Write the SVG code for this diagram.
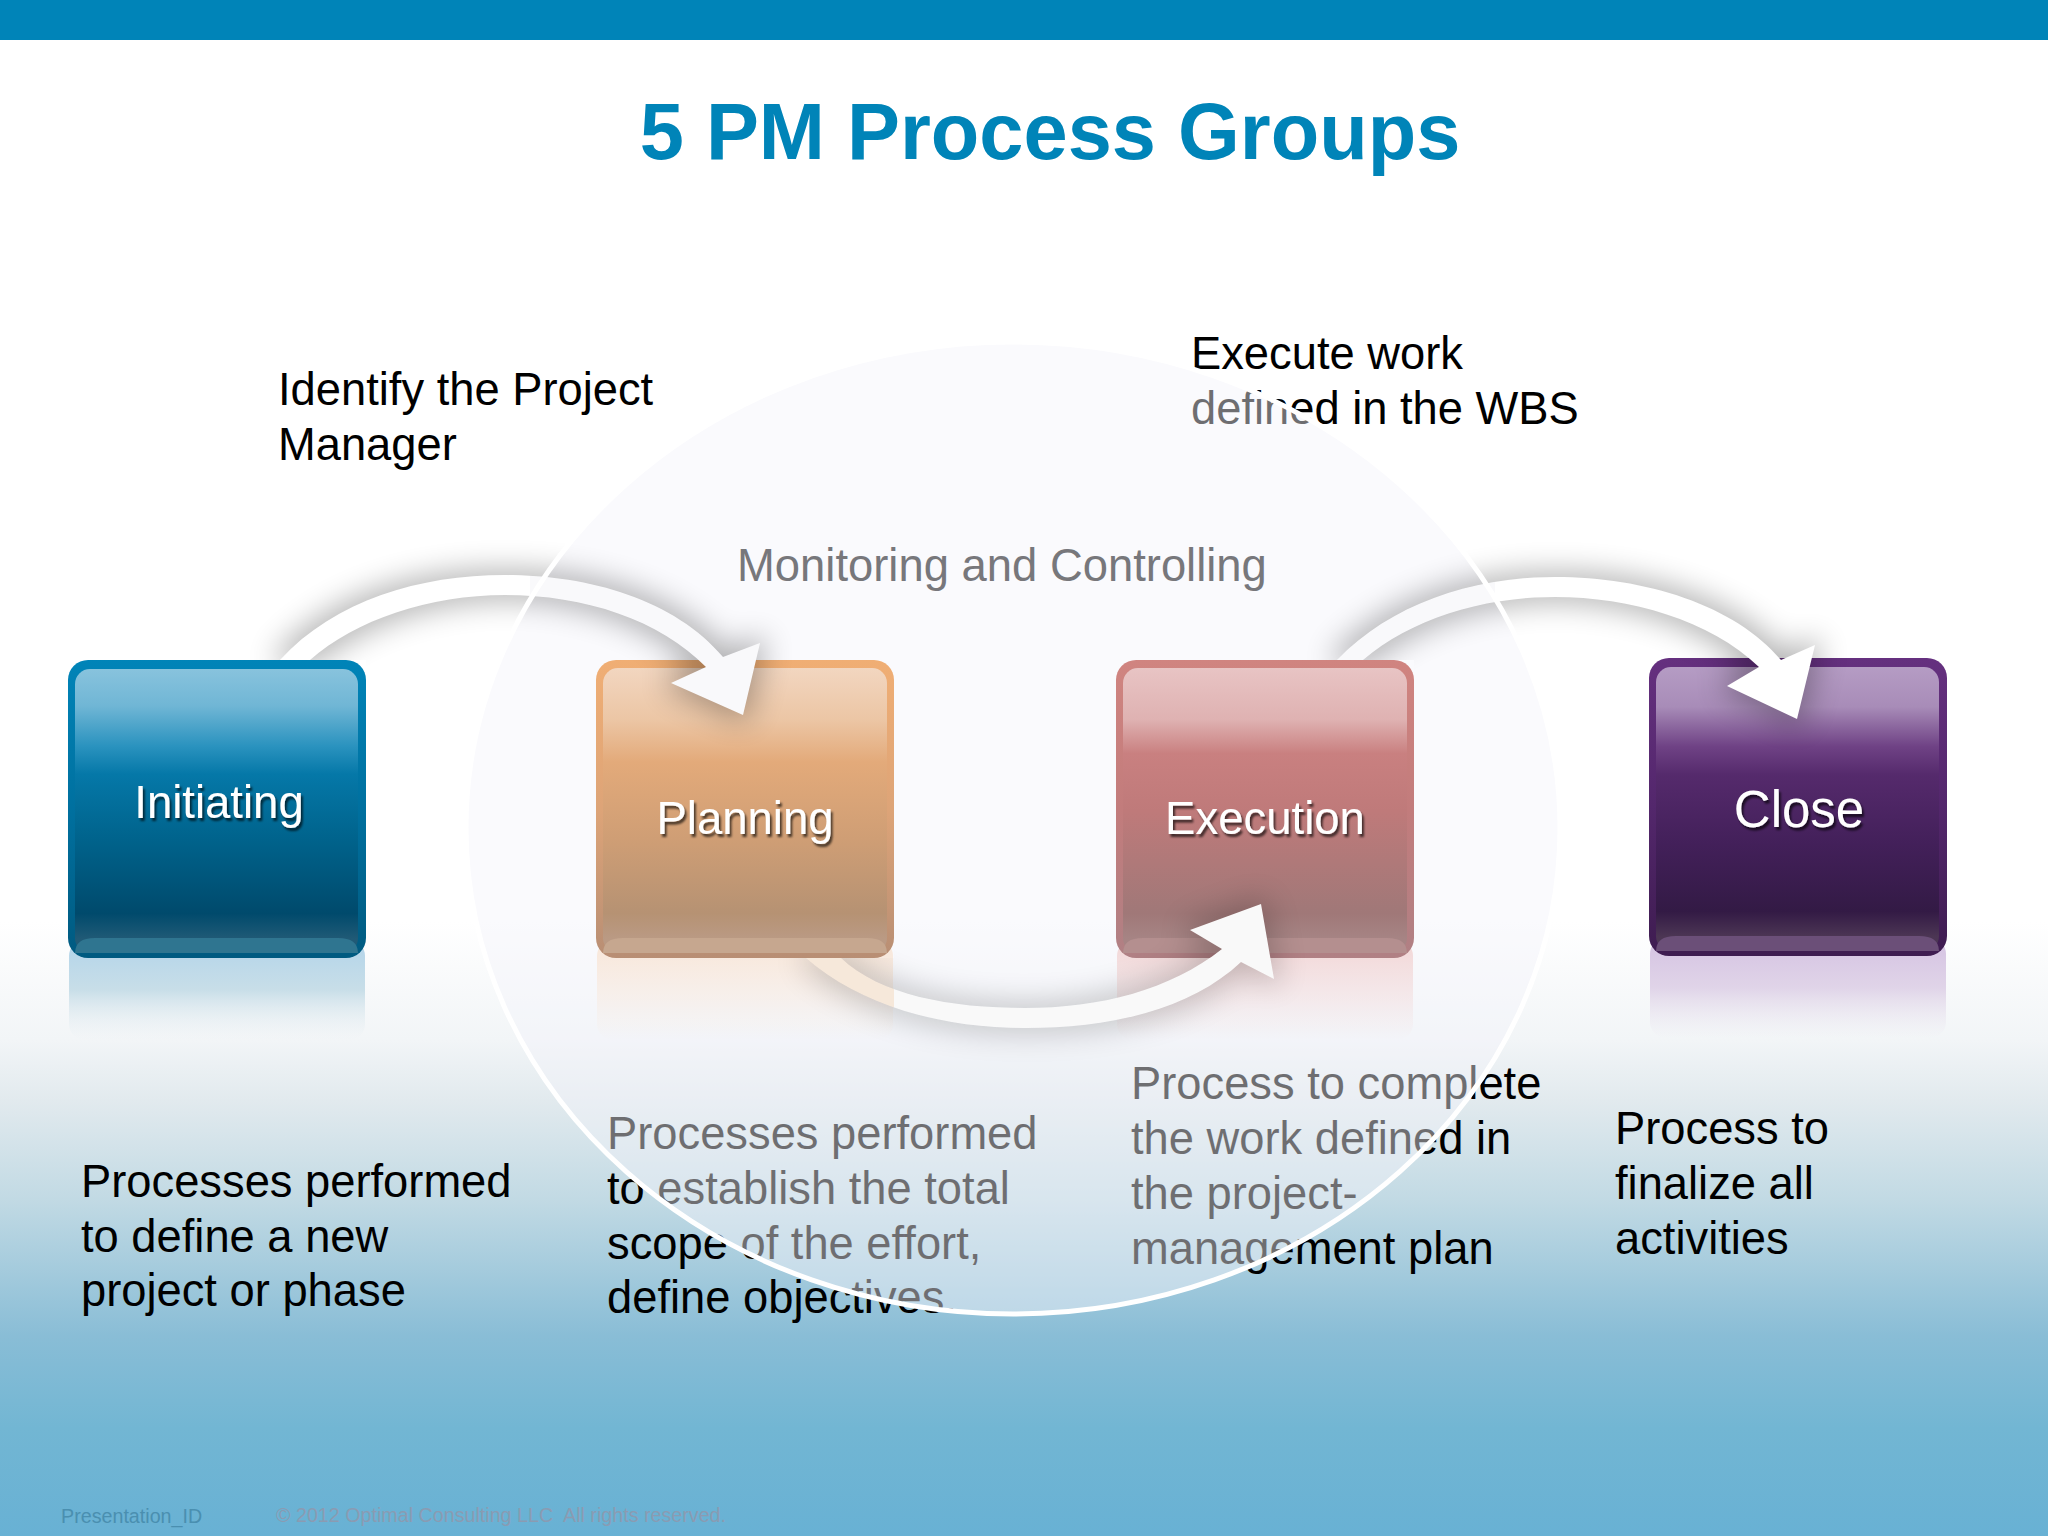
<svg xmlns="http://www.w3.org/2000/svg" width="2048" height="1536" viewBox="0 0 2048 1536">
<style>
text{font-family:"Liberation Sans",Arial,sans-serif}
.body{font-size:45.3px;fill:#000}
.lab{font-size:45.5px;fill:#fff;text-anchor:middle;filter:url(#ts)}
.foot{font-size:19.7px;white-space:pre}
</style>
<defs>
<linearGradient id="bg" x1="0" y1="0" x2="0" y2="1"><stop offset=".6" stop-color="#fff"/><stop offset=".677" stop-color="#f2f5f7"/><stop offset=".716" stop-color="#e2eaee"/><stop offset=".78" stop-color="#c2dae4"/><stop offset=".87" stop-color="#89bdd6"/><stop offset=".93" stop-color="#72b6d3"/><stop offset="1" stop-color="#68b1d4"/></linearGradient>
<linearGradient id="iB" x1="0" y1="0" x2="0" y2="1"><stop offset="0" stop-color="#0084b8"/><stop offset=".5" stop-color="#00709f"/><stop offset="1" stop-color="#005a80"/></linearGradient>
<linearGradient id="iF" x1="0" y1="0" x2="0" y2="1"><stop offset="0" stop-color="#88c3dd"/><stop offset=".13" stop-color="#70b6d5"/><stop offset=".27" stop-color="#2b93bf"/><stop offset=".37" stop-color="#0578a8"/><stop offset=".6" stop-color="#00638c"/><stop offset=".86" stop-color="#004a6c"/><stop offset=".95" stop-color="#205a76"/><stop offset="1" stop-color="#205a76"/></linearGradient>
<linearGradient id="pB" x1="0" y1="0" x2="0" y2="1"><stop offset="0" stop-color="#f0ae74"/><stop offset=".5" stop-color="#dda478"/><stop offset="1" stop-color="#b88e74"/></linearGradient>
<linearGradient id="pF" x1="0" y1="0" x2="0" y2="1"><stop offset="0" stop-color="#f2d6c0"/><stop offset=".18" stop-color="#ecc6a5"/><stop offset=".33" stop-color="#e3aa7a"/><stop offset=".6" stop-color="#cf9e75"/><stop offset=".86" stop-color="#b69273"/><stop offset=".95" stop-color="#ba9a84"/><stop offset="1" stop-color="#ba9a84"/></linearGradient>
<linearGradient id="eB" x1="0" y1="0" x2="0" y2="1"><stop offset="0" stop-color="#d08480"/><stop offset=".5" stop-color="#c27c7c"/><stop offset="1" stop-color="#b08084"/></linearGradient>
<linearGradient id="eF" x1="0" y1="0" x2="0" y2="1"><stop offset="0" stop-color="#e8c4c4"/><stop offset=".18" stop-color="#dfb2b2"/><stop offset=".3" stop-color="#c98080"/><stop offset=".5" stop-color="#bf7a7a"/><stop offset=".86" stop-color="#a07878"/><stop offset=".95" stop-color="#a68484"/><stop offset="1" stop-color="#a68484"/></linearGradient>
<linearGradient id="cB" x1="0" y1="0" x2="0" y2="1"><stop offset="0" stop-color="#65307f"/><stop offset=".5" stop-color="#53276c"/><stop offset="1" stop-color="#3e1c50"/></linearGradient>
<linearGradient id="cF" x1="0" y1="0" x2="0" y2="1"><stop offset="0" stop-color="#b59cc4"/><stop offset=".14" stop-color="#a88cb8"/><stop offset=".28" stop-color="#6f4285"/><stop offset=".38" stop-color="#552a6c"/><stop offset=".62" stop-color="#43205a"/><stop offset=".86" stop-color="#331a45"/><stop offset=".95" stop-color="#4c3654"/><stop offset="1" stop-color="#4c3654"/></linearGradient>
<linearGradient id="iR" x1="0" y1="0" x2="0" y2="1"><stop offset="0" stop-color="#b2d4ea"/><stop offset=".5" stop-color="#c8dee8"/><stop offset="1" stop-color="#e8eef2" stop-opacity="0"/></linearGradient>
<linearGradient id="pR" x1="0" y1="0" x2="0" y2="1"><stop offset="0" stop-color="#f8e6d8"/><stop offset="1" stop-color="#f8e6d8" stop-opacity="0"/></linearGradient>
<linearGradient id="eR" x1="0" y1="0" x2="0" y2="1"><stop offset="0" stop-color="#f2d6d6"/><stop offset="1" stop-color="#f2d6d6" stop-opacity="0"/></linearGradient>
<linearGradient id="cR" x1="0" y1="0" x2="0" y2="1"><stop offset="0" stop-color="#d4c2e2"/><stop offset=".5" stop-color="#e0d4e8"/><stop offset="1" stop-color="#e8e4ee" stop-opacity="0"/></linearGradient>
<linearGradient id="a1" gradientUnits="userSpaceOnUse" x1="0" y1="0" x2="2048" y2="0"><stop offset=".2588" stop-color="#fff"/><stop offset=".2588" stop-color="#f9f9fb"/></linearGradient>
<linearGradient id="a2" gradientUnits="userSpaceOnUse" x1="0" y1="0" x2="2048" y2="0"><stop offset=".4365" stop-color="#f6e8da"/><stop offset=".4365" stop-color="#f9f9f9"/></linearGradient>
<linearGradient id="a3" gradientUnits="userSpaceOnUse" x1="0" y1="0" x2="2048" y2="0"><stop offset=".73" stop-color="#f9f9fb"/><stop offset=".73" stop-color="#fff"/></linearGradient>
<filter id="ts" x="-20%" y="-30%" width="140%" height="170%"><feDropShadow dx="2" dy="3" stdDeviation="1.2" flood-color="#000" flood-opacity=".65"/></filter>
<filter id="as" x="-25%" y="-60%" width="150%" height="220%" color-interpolation-filters="sRGB">
<feMorphology in="SourceAlpha" operator="dilate" radius="5" result="d"/>
<feGaussianBlur in="d" stdDeviation="15" result="b"/>
<feComponentTransfer in="b" result="s"><feFuncA type="linear" slope=".3"/></feComponentTransfer>
<feMerge><feMergeNode in="s"/><feMergeNode in="SourceGraphic"/></feMerge>
</filter>
<filter id="as2" x="-25%" y="-60%" width="150%" height="220%" color-interpolation-filters="sRGB">
<feMorphology in="SourceAlpha" operator="dilate" radius="5" result="d"/>
<feGaussianBlur in="d" stdDeviation="15" result="b"/>
<feComponentTransfer in="b" result="s"><feFuncA type="linear" slope=".2"/></feComponentTransfer>
<feMerge><feMergeNode in="s"/><feMergeNode in="SourceGraphic"/></feMerge>
</filter>
<clipPath id="c1"><path clip-rule="evenodd" d="M0 0H2048V1536H0Z M68 660H366V958H68Z"/></clipPath>
<clipPath id="c2"><path clip-rule="evenodd" d="M0 0H2048V1536H0Z M596 660H894V958H596Z"/></clipPath>
<clipPath id="c3"><path clip-rule="evenodd" d="M0 0H2048V1536H0Z M1116 660H1414V958H1116Z"/></clipPath>
</defs>

<rect width="2048" height="1536" fill="url(#bg)"/>
<rect width="2048" height="40" fill="#0084b8"/>
<text x="1050" y="159" text-anchor="middle" font-size="79.4" font-weight="700" fill="#0084b8">5 PM Process Groups</text>

<g id="notes">
<text class="body"><tspan x="278" y="405">Identify the Project</tspan><tspan x="278" y="460">Manager</tspan></text>
<text class="body"><tspan x="1191" y="369">Execute work</tspan><tspan x="1191" y="424">defined in the WBS</tspan></text>
<text class="body"><tspan x="81" y="1197">Processes performed</tspan><tspan x="81" y="1252">to define a new</tspan><tspan x="81" y="1306">project or phase</tspan></text>
<text class="body"><tspan x="607" y="1149">Processes performed</tspan><tspan x="607" y="1204">to establish the total</tspan><tspan x="607" y="1259">scope of the effort,</tspan><tspan x="607" y="1313">define objectives.</tspan></text>
<text class="body"><tspan x="1131" y="1099">Process to complete</tspan><tspan x="1131" y="1154">the work defined in</tspan><tspan x="1131" y="1209">the project-</tspan><tspan x="1131" y="1264">management plan</tspan></text>
<text class="body"><tspan x="1615" y="1144">Process to</tspan><tspan x="1615" y="1199">finalize all</tspan><tspan x="1615" y="1254">activities</tspan></text>
</g>

<g id="node-initiating">
<rect x="69" y="940" width="296" height="100" rx="16" fill="url(#iR)"/>
<rect x="68" y="660" width="298" height="298" rx="20" fill="url(#iB)"/>
<rect x="75" y="669" width="283" height="284" rx="15" fill="url(#iF)"/>
<path d="M75 953Q75 938 95 938H338Q358 938 358 953H75Z" fill="#2f7590"/>
<text class="lab" x="219" y="818">Initiating</text>
</g>
<g id="node-close">
<rect x="1650" y="938" width="296" height="100" rx="16" fill="url(#cR)"/>
<rect x="1649" y="658" width="298" height="298" rx="20" fill="url(#cB)"/>
<rect x="1656" y="667" width="283" height="284" rx="15" fill="url(#cF)"/>
<path d="M1656 951Q1656 936 1676 936H1919Q1939 936 1939 951H1656Z" fill="#6b4f78"/>
<text class="lab" x="1799" y="827" style="font-size:51px">Close</text>
</g>

<ellipse id="monitoring-circle" cx="1013" cy="828" rx="547" ry="486" fill="#f5f5fb" fill-opacity=".45"/>
<text id="monitoring-label" x="737" y="581" font-size="45.4" fill="#77777b">Monitoring and Controlling</text>

<g id="node-planning">
<rect x="597" y="940" width="296" height="100" rx="16" fill="url(#pR)"/>
<rect x="596" y="660" width="298" height="298" rx="20" fill="url(#pB)"/>
<rect x="603" y="668" width="284" height="285" rx="15" fill="url(#pF)"/>
<path d="M603 953Q603 938 623 938H867Q887 938 887 953H603Z" fill="#c6a78f"/>
<text class="lab" x="745" y="834">Planning</text>
</g>
<g id="node-execution">
<rect x="1117" y="940" width="296" height="100" rx="16" fill="url(#eR)"/>
<rect x="1116" y="660" width="298" height="298" rx="20" fill="url(#eB)"/>
<rect x="1123" y="668" width="284" height="285" rx="15" fill="url(#eF)"/>
<path d="M1123 953Q1123 938 1143 938H1387Q1407 938 1407 953H1123Z" fill="#b48f8f"/>
<text class="lab" x="1265" y="834">Execution</text>
</g>

<g id="connectors">
<g clip-path="url(#c1)"><path filter="url(#as)" fill="url(#a1)" d="M280 660C335 600 420 575 505 575C590 575 675 600 723 657L760 643L743 715L671 683L706 667C660 620 585 595 505 595C430 595 355 620 310 660Z"/></g>
<g clip-path="url(#c2)"><path filter="url(#as2)" fill="url(#a2)" d="M806 958C860 1005 940 1028 1025 1028C1110 1028 1190 1010 1241 962L1274 979L1261 904L1190 930L1222 949C1170 990 1100 1008 1025 1008C950 1008 880 995 841 958Z"/></g>
<g clip-path="url(#c3)"><path filter="url(#as)" fill="url(#a3)" d="M1337 660C1390 605 1470 577 1555 577C1645 577 1735 605 1781 660L1815 645L1797 719L1727 686L1759 667C1710 620 1630 597 1555 597C1480 597 1410 620 1363 660Z"/></g>
</g>

<ellipse id="monitoring-rim" cx="1013" cy="828" rx="547" ry="486" fill="none" stroke="#fff" stroke-width="5"/>

<text class="foot" x="61" y="1523" fill="#4a8fb0">Presentation_ID</text>
<text class="foot" x="276" y="1522" fill="#8a9bb2">© 2012 Optimal Consulting LLC  All rights reserved.</text>
</svg>
